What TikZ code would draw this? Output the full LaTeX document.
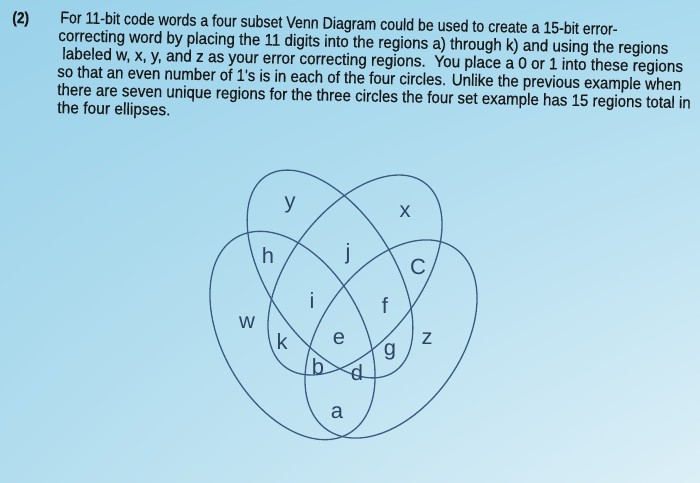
\documentclass[tikz,border=0pt]{standalone}
\usepackage{fontspec}
\usepackage{graphicx}
\usetikzlibrary{shadings}
\setmainfont{Liberation Sans}
\newfontfamily\txtfont[FakeStretch=0.86,FakeBold=0.5]{Liberation Sans}
\newfontfamily\handfont{Liberation Sans}
\definecolor{ink}{HTML}{3A5C82}
\definecolor{handink}{HTML}{2C4565}
\definecolor{bgA}{HTML}{9AD2EA}
\definecolor{bgB}{HTML}{A9DAEE}
\definecolor{bgC}{HTML}{B2DDEE}
\definecolor{bgD}{HTML}{DCEFF7}
\begin{document}
\begin{tikzpicture}[x=1pt,y=1pt,
  venn/.style={draw=ink, line width=1.3pt},
  lbl/.style={font=\handfont\fontsize{22}{22}\selectfont, text=handink, inner sep=0pt},
  txt/.style={font=\txtfont\fontsize{16.5}{18}\selectfont, text=black!90, anchor=base west, inner sep=0pt, rotate=-1.2}]
\shade[upper left=bgA, upper right=bgB, lower left=bgC, lower right=bgD] (0,0) rectangle (700,-482);
\useasboundingbox (0,0) rectangle (700,-482);

% question text
\node[txt, font=\txtfont\bfseries\fontsize{16}{18}\selectfont] (num) at (12,-23) {(2)};
\node[txt] (l1) at (60,-23) {\scalebox{1.0}[1]{For 11-bit code words a four subset Venn Diagram could be used to create a 15-bit error-}};
\node[txt] (l2) at (58,-41) {\scalebox{1.072}[1]{correcting word by placing the 11 digits into the regions a) through k) and using the regions}};
\node[txt] (l3) at (62,-59) {\scalebox{1.083}[1]{labeled w, x, y, and z as your error correcting regions.\ \ You place a 0 or 1 into these regions}};
\node[txt] (l4) at (57,-77) {\scalebox{1.062}[1]{so that an even number of 1's is in each of the four circles. Unlike the previous example when}};
\node[txt] (l5) at (57,-95) {\scalebox{1.064}[1]{there are seven unique regions for the three circles the four set example has 15 regions total in}};
\node[txt] (l6) at (57,-113) {\scalebox{1.096}[1]{the four ellipses.}};

% four ellipses
\draw[venn, rotate around={-56.9:(330,-274)}] (330,-274) ellipse [x radius=117, y radius=63];
\draw[venn, rotate around={52.7:(355,-275)}] (355,-275) ellipse [x radius=115.5, y radius=65];
\draw[venn, rotate around={-60.4:(292.5,-335.5)}] (292.5,-335.5) ellipse [x radius=113, y radius=70];
\draw[venn, rotate around={54.5:(391,-339)}] (391,-339) ellipse [x radius=111, y radius=70];

% region labels
\node[lbl] (ly) at (290,-205) {y};
\node[lbl] (lx) at (405,-212) {x};
\node[lbl] (lh) at (268,-256) {h};
\node[lbl] (lj) at (348,-254) {j};
\node[lbl] (lc) at (418,-267) {C};
\node[lbl] (li) at (312,-301) {i};
\node[lbl] (lf) at (385,-306) {f};
\node[lbl] (lw) at (247,-323) {w};
\node[lbl] (lk) at (282,-342) {k};
\node[lbl] (le) at (339,-339) {e};
\node[lbl] (lg) at (390,-352) {g};
\node[lbl] (lz) at (427,-339) {z};
\node[lbl] (lb) at (318,-367) {b};
\node[lbl] (ld) at (357,-373) {d};
\node[lbl] (la) at (337,-413) {a};
\end{tikzpicture}
\end{document}
